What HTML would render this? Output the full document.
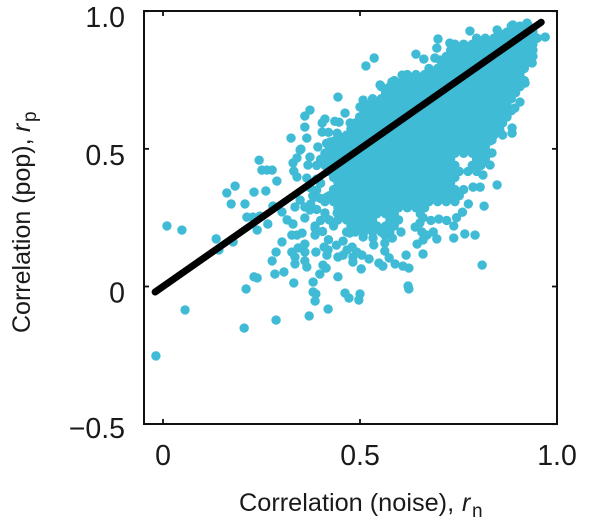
<!DOCTYPE html>
<html lang="en">
<head>
<meta charset="utf-8">
<title>Correlation scatter</title>
<style>
html,body{margin:0;padding:0;background:#fff;}
svg{display:block;font-family:"Liberation Sans",Arial,sans-serif;fill:#1a1a1a;}
</style>
</head>
<body>
<svg id="chart" width="600" height="522" viewBox="0 0 600 522" xmlns="http://www.w3.org/2000/svg">
  <g id="points"></g>
  <g id="fit"></g>
  <rect x="144" y="11" width="413" height="413" fill="none" stroke="#111" stroke-width="2"></rect>
  <g id="ticks"></g>
  <text x="239" y="511" font-size="25.3">Correlation (noise),</text>
  <text x="462" y="511" font-size="25" font-style="italic">r</text>
  <text x="472" y="517" font-size="19">n</text>
  <g transform="translate(30,333) rotate(-90)">
    <text x="0" y="0" font-size="25">Correlation (pop),</text>
    <text x="201" y="0" font-size="25" font-style="italic">r</text>
    <text x="211" y="6" font-size="19">p</text>
  </g>
</svg>
<script>
const xTickValues = [0, 0.5, 1];
const xTickLabels = ["0", "0.5", "1.0"];
const yTickValues = [-0.5, 0, 0.5, 1];
const yTickLabels = ["\u22120.5", "0", "0.5", "1.0"];
const fitNoise = [-0.02, 0.96];
const fitPop = [-0.02, 0.96];

const sparseNoise = [
-.018,.056,.010,.048,.135,.178,.142,.206,.287,.211,.231,.239,.284,.307,.332,.335,.277,.287,.302,.239,
.266,.213,.228,.246,.208,.173,.162,.183,.231,.261,.289,.251,.264,.277,.244,.279,.302,.315,.330,.327,
.340,.353,.386,.386,.327,.343,.360,.360,.335,.388,.409,.416,.419,.360,.365,.406,.414,.398,.381,.381,
.388,.386,.419,.371,.444,.444,.474,.508,.457,.533,.535,.563,.563,.582,.604,.640,.652,.657,.670,.686,
.695,.645,.660,.738,.766,.792,.738,.660,.617,.563,.574,.589,.609,.624,.548,.558,.523,.503,.505,.492,
.480,.467,.482,.482,.457,.810,.622,.624,.500,.497,.462,.472,.515,.536,.444,.779,.698,.695,.642,.662,
.690,.373,.360,.360,.411,.404,.404,.447,.462,.365,.442,.393,.348,.373,.368,.325,.350,.340,.330,.332,
.340,.365,.348,.335,.360,.373,.360,.386,.416,.411,.442,.386,.607,.551,.581,.508,.500,.475,.505,.424,
.970,.939,.937,.919,.906,.893,.873,.886,.886,.855,.835,.835,.830,.812,.805,.787,.848,.815,.924,.888,
.848,.797,.728,.703,
.373,.390,.380,.400,.400,.390,.400,.390,.420,.436,.415,.375,.390,.400,.405,.420,.440,
.660,.680,.700,.720,.745,.760,.775
];
const sparsePop = [
-.252,-.085,.220,.205,.173,.162,.133,-.151,-.122,-.009,.035,.031,.045,.053,.013,.082,.093,.125,.162,.205,
.227,.252,.252,.256,.300,.300,.340,.365,.343,.347,.383,.423,.423,.423,.459,.292,.271,.242,.227,.187,
.187,.194,.212,.187,.125,.140,.154,.125,.107,.125,.143,.114,.133,.093,.071,.078,.067,.045,.016,-.020,
-.027,-.053,-.082,-.107,.107,.035,.194,.180,.165,.176,.151,.187,.158,.176,.198,.216,.231,.198,.187,.198,
.173,.154,.169,.176,.191,.187,.220,.118,.114,.129,.104,.082,.074,.067,.085,.074,.100,.064,.114,.125,
.143,.133,.107,.089,.114,.078,.002,-.009,-.027,-.049,-.024,-.042,.801,.830,.688,.928,.899,.866,.844,.826,
.830,.641,.619,.579,.608,.594,.561,.597,.630,.539,.557,.507,.496,.470,.441,.539,.499,.467,.449,.419,
.398,.394,.314,.289,.289,.278,.249,.325,.325,.267,.267,.220,.768,.732,.743,.677,.652,.594,.597,.525,
.906,.859,.812,.739,.670,.648,.616,.576,.557,.568,.532,.485,.441,.405,.361,.361,.369,.292,.957,.950,
.932,.888,.884,.823,
.360,.350,.330,.375,.320,.390,.460,.440,.560,.600,.520,.300,.280,.240,.200,.170,.150,
.250,.240,.245,.240,.250,.270,.300
];

const coreNoise = [
.884,.906,.928,
.851,.873,.895,.917,.939,
.796,.818,.840,.862,.884,.906,.928,.950,
.741,.763,.785,.807,.829,.851,.873,.895,.917,.939,
.730,.752,.774,.796,.818,.840,.862,.884,.906,.928,
.719,.741,.763,.785,.807,.829,.851,.873,.895,.917,.939,
.708,.730,.752,.774,.796,.818,.840,.862,.884,.906,.928,
.675,.697,.719,.741,.763,.785,.807,.829,.851,.873,.895,.917,
.620,.642,.664,.686,.708,.730,.752,.774,.796,.818,.840,.862,.884,.906,
.587,.609,.631,.653,.675,.697,.719,.741,.763,.785,.807,.829,.851,.873,.895,.917,
.554,.576,.598,.620,.642,.664,.686,.708,.730,.752,.774,.796,.818,.840,.862,.884,.906,
.565,.587,.609,.631,.653,.675,.697,.719,.741,.763,.785,.807,.829,.851,.873,.895,
.532,.554,.576,.598,.620,.642,.664,.686,.708,.730,.752,.774,.796,.818,.840,.862,.884,
.521,.543,.565,.587,.609,.631,.653,.675,.697,.719,.741,.763,.785,.807,.829,.851,.873,
.510,.532,.554,.576,.598,.620,.642,.664,.686,.708,.730,.752,.774,.796,.818,.840,.862,.884,
.499,.521,.543,.565,.587,.609,.631,.653,.675,.697,.719,.741,.763,.785,.807,.829,.851,.873,
.488,.510,.532,.554,.576,.598,.620,.642,.664,.686,.708,.730,.752,.774,.796,.818,.840,.862,
.477,.499,.521,.543,.565,.587,.609,.631,.653,.675,.697,.719,.741,.763,.785,.807,.829,.851,
.444,.466,.488,.510,.532,.554,.576,.598,.620,.642,.664,.686,.708,.730,.752,.774,.796,.818,.840,.862,
.433,.455,.477,.499,.521,.543,.565,.587,.609,.631,.653,.675,.697,.719,.741,.763,.785,.807,.829,
.422,.444,.466,.488,.510,.532,.554,.576,.598,.620,.642,.664,.686,.708,.730,.752,.774,.796,.818,
.411,.433,.455,.477,.499,.521,.543,.565,.587,.609,.631,.653,.675,.697,.719,.741,.763,.785,.807,.829,
.400,.422,.444,.466,.488,.510,.532,.554,.576,.598,.620,.642,.664,.686,.708,.730,.796,.818,
.411,.433,.455,.477,.499,.521,.543,.565,.587,.609,.631,.653,.675,.697,.719,.741,.785,.807,
.422,.444,.466,.488,.510,.532,.554,.576,.598,.620,.642,.664,.686,.708,.730,.752,.774,.796,
.433,.455,.477,.499,.521,.543,.565,.587,.609,.631,.653,.675,.697,.719,.741,
.444,.466,.488,.510,.532,.554,.576,.598,.620,.642,.664,.686,.708,.730,
.433,.455,.477,.499,.521,.543,.565,.587,.609,.631,.653,.675,.697,.719,.741,.763,
.422,.444,.466,.488,.510,.532,.554,.576,.598,.620,.642,.664,.686,.708,.730,.752,
.411,.433,.455,.477,.499,.521,.543,.565,.587,.609,.631,.653,.675,.697,.719,.741,
.444,.466,.488,.510,.532,.554,.576,.598,.620,.642,.664,
.455,.477,.499,.521,.543,.565,.587,.653,
.422,.444,.466,.488,.510,.532,.576,.598,
.433,.477,.499,.521,.543,.565,.587,
.466,.488,.510,.532,.554,.576
];
const corePop = [
.946,.946,.946,
.924,.924,.924,.924,.924,
.902,.902,.902,.902,.902,.902,.902,.902,
.880,.880,.880,.880,.880,.880,.880,.880,.880,.880,
.858,.858,.858,.858,.858,.858,.858,.858,.858,.858,
.836,.836,.836,.836,.836,.836,.836,.836,.836,.836,.836,
.814,.814,.814,.814,.814,.814,.814,.814,.814,.814,.814,
.792,.792,.792,.792,.792,.792,.792,.792,.792,.792,.792,.792,
.770,.770,.770,.770,.770,.770,.770,.770,.770,.770,.770,.770,.770,.770,
.748,.748,.748,.748,.748,.748,.748,.748,.748,.748,.748,.748,.748,.748,.748,.748,
.726,.726,.726,.726,.726,.726,.726,.726,.726,.726,.726,.726,.726,.726,.726,.726,.726,
.704,.704,.704,.704,.704,.704,.704,.704,.704,.704,.704,.704,.704,.704,.704,.704,
.682,.682,.682,.682,.682,.682,.682,.682,.682,.682,.682,.682,.682,.682,.682,.682,.682,
.660,.660,.660,.660,.660,.660,.660,.660,.660,.660,.660,.660,.660,.660,.660,.660,.660,
.638,.638,.638,.638,.638,.638,.638,.638,.638,.638,.638,.638,.638,.638,.638,.638,.638,.638,
.616,.616,.616,.616,.616,.616,.616,.616,.616,.616,.616,.616,.616,.616,.616,.616,.616,.616,
.594,.594,.594,.594,.594,.594,.594,.594,.594,.594,.594,.594,.594,.594,.594,.594,.594,.594,
.572,.572,.572,.572,.572,.572,.572,.572,.572,.572,.572,.572,.572,.572,.572,.572,.572,.572,
.550,.550,.550,.550,.550,.550,.550,.550,.550,.550,.550,.550,.550,.550,.550,.550,.550,.550,.550,.550,
.528,.528,.528,.528,.528,.528,.528,.528,.528,.528,.528,.528,.528,.528,.528,.528,.528,.528,.528,
.506,.506,.506,.506,.506,.506,.506,.506,.506,.506,.506,.506,.506,.506,.506,.506,.506,.506,.506,
.484,.484,.484,.484,.484,.484,.484,.484,.484,.484,.484,.484,.484,.484,.484,.484,.484,.484,.484,.484,
.462,.462,.462,.462,.462,.462,.462,.462,.462,.462,.462,.462,.462,.462,.462,.462,.462,.462,
.440,.440,.440,.440,.440,.440,.440,.440,.440,.440,.440,.440,.440,.440,.440,.440,.440,.440,
.418,.418,.418,.418,.418,.418,.418,.418,.418,.418,.418,.418,.418,.418,.418,.418,.418,.418,
.396,.396,.396,.396,.396,.396,.396,.396,.396,.396,.396,.396,.396,.396,.396,
.374,.374,.374,.374,.374,.374,.374,.374,.374,.374,.374,.374,.374,.374,
.352,.352,.352,.352,.352,.352,.352,.352,.352,.352,.352,.352,.352,.352,.352,.352,
.330,.330,.330,.330,.330,.330,.330,.330,.330,.330,.330,.330,.330,.330,.330,.330,
.308,.308,.308,.308,.308,.308,.308,.308,.308,.308,.308,.308,.308,.308,.308,.308,
.286,.286,.286,.286,.286,.286,.286,.286,.286,.286,.286,
.264,.264,.264,.264,.264,.264,.264,.264,
.242,.242,.242,.242,.242,.242,.242,.242,
.220,.220,.220,.220,.220,.220,.220,
.198,.198,.198,.198,.198,.198
];

const SVG_NS = "http://www.w3.org/2000/svg";
const xScale = v => 163 + v * 394;
const yScale = v => 286.5 - v * 275.3;

function drawDots(noise, pop) {
  const g = document.getElementById("points");
  const n = Math.min(noise.length, pop.length);
  for (let i = 0; i < n; i++) {
    const el = document.createElementNS(SVG_NS, "circle");
    el.setAttribute("cx", xScale(noise[i]).toFixed(2));
    el.setAttribute("cy", yScale(pop[i]).toFixed(2));
    el.setAttribute("r", "4.7");
    el.setAttribute("fill", "#40bbd6");
    
    
    g.appendChild(el);
  }
}
drawDots(coreNoise, corePop);
drawDots(sparseNoise, sparsePop);

(function drawFit() {
  const el = document.createElementNS(SVG_NS, "line");
  el.setAttribute("x1", xScale(fitNoise[0]));
  el.setAttribute("y1", yScale(fitPop[0]));
  el.setAttribute("x2", xScale(fitNoise[1]));
  el.setAttribute("y2", yScale(fitPop[1]));
  el.setAttribute("stroke", "#000");
  el.setAttribute("stroke-width", "7");
  el.setAttribute("stroke-linecap", "round");
  
  
  document.getElementById("fit").appendChild(el);
})();

(function drawTicks() {
  const g = document.getElementById("ticks");
  function tick(x1, y1, x2, y2) {
    const el = document.createElementNS(SVG_NS, "line");
    el.setAttribute("x1", x1);
    el.setAttribute("y1", y1);
    el.setAttribute("x2", x2);
    el.setAttribute("y2", y2);
    el.setAttribute("stroke", "#111");
    el.setAttribute("stroke-width", "1.8");
    
    
    g.appendChild(el);
  }
  function label(x, y, anchor, text) {
    const el = document.createElementNS(SVG_NS, "text");
    el.setAttribute("x", x);
    el.setAttribute("y", y);
    el.setAttribute("text-anchor", anchor);
    el.setAttribute("font-size", "28.5");
    el.textContent = text;
    
    
    g.appendChild(el);
  }
  xTickValues.forEach((v, i) => {
    const x = xScale(v);
    tick(x, 424, x, 419);
    tick(x, 11, x, 16);
    label(x, 465, "middle", xTickLabels[i]);
  });
  yTickValues.forEach((v, i) => {
    const y = yScale(v);
    tick(144, y, 149, y);
    tick(557, y, 552, y);
    label(125, Math.min(y + 16, 438), "end", yTickLabels[i]);
  });
})();
</script>
</body>
</html>
